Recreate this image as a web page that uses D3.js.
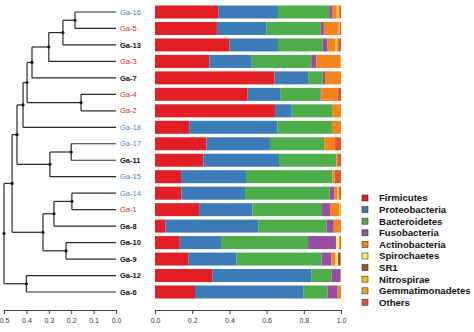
<!DOCTYPE html>
<html>
<head>
<meta charset="utf-8">
<script src="https://cdn.jsdelivr.net/npm/d3@7"></script>
<style>
  body { margin: 0; background: #fff; }
  text { font-family: "Liberation Sans", Arial, sans-serif; }
</style>
</head>
<body>
<div id="chart"></div>
<script>
// samples in dendrogram order (top to bottom)
var samples = ["Ga-16","Ga-5","Ga-13","Ga-3","Ga-7","Ga-4","Ga-2","Ga-18","Ga-17",
               "Ga-11","Ga-15","Ga-14","Ga-1","Ga-8","Ga-10","Ga-9","Ga-12","Ga-6"];
var sampleGroup = ["blue","red","black","red","black","red","red","blue","blue",
                   "black","blue","blue","red","black","black","black","black","black"];

// clustering merges: [id, left, right, height]
var merges = [
  ["m1", "Ga-16", "Ga-5", 0.183],
  ["m2", "m1", "Ga-13", 0.237],
  ["m3", "m2", "Ga-3", 0.300],
  ["m4", "m3", "Ga-7", 0.375],
  ["m5", "Ga-4", "Ga-2", 0.156],
  ["m6", "m4", "m5", 0.397],
  ["m7", "m6", "Ga-18", 0.415],
  ["m8", "Ga-17", "Ga-11", 0.200],
  ["m9", "m8", "Ga-15", 0.295],
  ["m10", "m7", "m9", 0.442],
  ["m11", "Ga-14", "Ga-1", 0.197],
  ["m12", "m11", "Ga-8", 0.277],
  ["m13", "Ga-10", "Ga-9", 0.223],
  ["m14", "m12", "m13", 0.326],
  ["m15", "m10", "m14", 0.464],
  ["m16", "Ga-12", "Ga-6", 0.400],
  ["m17", "m15", "m16", 0.500]
];
var treeTicks = [0.5, 0.4, 0.3, 0.2, 0.1, 0.0];

// relative abundance per phylum, same order as samples
var phyla = ["Firmicutes","Proteobacteria","Bacteroidetes","Fusobacteria","Actinobacteria",
             "Spirochaetes","SR1","Nitrospirae","Gemmatimonadetes","Others"];
var firmicutes     = [0.340,0.333,0.401,0.292,0.642,0.498,0.645,0.184,0.276,0.260,0.140,0.142,0.237,0.057,0.133,0.179,0.308,0.215];
var proteobacteria = [0.321,0.267,0.260,0.228,0.181,0.178,0.090,0.473,0.342,0.407,0.349,0.342,0.286,0.500,0.222,0.260,0.534,0.582];
var bacteroidetes  = [0.276,0.289,0.241,0.320,0.079,0.213,0.217,0.295,0.292,0.308,0.464,0.455,0.375,0.366,0.468,0.457,0.108,0.131];
var fusobacteria   = [0.018,0.019,0.026,0.027,0.012,0.004,0,0,0,0,0,0.025,0.043,0.038,0.150,0.052,0.045,0.054];
var actinobacteria = [0.022,0.080,0.043,0.128,0.086,0.089,0.048,0.048,0.058,0.009,0.013,0.016,0.050,0.039,0,0.023,0.005,0.018];
var spirochaetes   = [0,0,0,0,0,0,0,0,0,0,0,0,0,0,0.016,0.013,0,0];
var sr1            = [0,0,0,0,0,0,0,0,0,0,0,0,0,0,0,0.012,0,0];
var nitrospirae    = [0.008,0.005,0.006,0.005,0,0,0,0,0,0,0,0.005,0.004,0,0,0,0,0];
var gemmatimonadetes = [0.006,0,0.008,0,0,0,0,0,0,0,0,0.005,0.005,0,0.005,0,0,0];
var others         = [0.009,0.007,0.015,0,0,0.018,0,0,0.032,0.016,0.034,0.010,0,0,0.006,0.004,0,0];
var barTicks = [0, 0.2, 0.4, 0.6, 0.8, 1.0];

var series = [firmicutes, proteobacteria, bacteroidetes, fusobacteria, actinobacteria,
              spirochaetes, sr1, nitrospirae, gemmatimonadetes, others];
var colors = ["#e31e24","#3a7bb8","#4dae49","#974ea2","#f5841f",
              "#f7ef6a","#a0522d","#f2c01e","#f7a21d","#e8552b"];
var labelColors = {blue: "#4a86c3", red: "#e0262a", black: "#111"};

var svg = d3.select("#chart").append("svg")
  .attr("width", 474).attr("height", 332);

var y = d3.scalePoint().domain(samples).range([12, 292]);
var xTree = d3.scaleLinear().domain([0.5, 0]).range([4, 116]);
var xBar = d3.scaleLinear().domain([0, 1]).range([155, 341]);
var barH = 13;

// ---- dendrogram ----
var nodes = {};
samples.forEach(function(s) { nodes[s] = {y: y(s), h: 0}; });
merges.forEach(function(m) {
  var a = nodes[m[1]], b = nodes[m[2]];
  nodes[m[0]] = {y: (a.y + b.y) / 2, h: m[3], a: a, b: b};
});

var tree = svg.append("g");
merges.forEach(function(m) {
  var n = nodes[m[0]];
  [n.a, n.b].forEach(function(c) {
    tree.append("line")
      .attr("x1", xTree(n.h)).attr("x2", xTree(c.h))
      .attr("y1", c.y).attr("y2", c.y)
      .attr("stroke", "#2a2a2a").attr("stroke-width", 1.2);
  });
  tree.append("line")
    .attr("x1", xTree(n.h)).attr("x2", xTree(n.h))
    .attr("y1", n.a.y).attr("y2", n.b.y)
    .attr("stroke", "#2a2a2a").attr("stroke-width", 1.2);
});
tree.selectAll("circle")
  .data(merges).enter()
  .append("circle")
  .attr("cx", function(m) { return xTree(nodes[m[0]].h); })
  .attr("cy", function(m) { return nodes[m[0]].y; })
  .attr("r", 1.6)
  .attr("fill", "#111");

// sample labels
svg.selectAll(".lab")
  .data(samples).enter()
  .append("text")
  .attr("x", 120)
  .attr("y", function(d) { return y(d); })
  .attr("dy", "0.35em")
  .style("font-size", "7.5px")
  .style("font-weight", function(d, i) { return sampleGroup[i] == "black" ? "bold" : "normal"; })
  .attr("fill", function(d, i) { return labelColors[sampleGroup[i]]; })
  .text(function(d) { return d; });

// ---- stacked bars ----
var rows = samples.map(function(s, i) {
  var r = {sample: s};
  phyla.forEach(function(p, k) { r[p] = series[k][i]; });
  return r;
});
var stacked = d3.stack().keys(phyla)(rows);

svg.append("g").selectAll("g")
  .data(stacked).enter()
  .append("g")
  .attr("fill", function(d, k) { return colors[k]; })
  .selectAll("rect")
  .data(function(d) { return d; })
  .enter().append("rect")
  .attr("x", function(d) { return xBar(d[0]); })
  .attr("width", function(d) { return Math.max(0, xBar(d[1]) - xBar(d[0])); })
  .attr("y", function(d) { return y(d.data.sample) - barH / 2; })
  .attr("height", barH);

// ---- axes ----
function styleAxis(g) {
  g.selectAll("path, line").attr("stroke", "#444");
  g.selectAll("text").attr("fill", "#333").style("font-size", "7px");
}
svg.append("g")
  .attr("transform", "translate(0,310)")
  .call(d3.axisBottom(xTree).tickValues(treeTicks).tickFormat(d3.format(".1f"))
        .tickSize(4).tickSizeOuter(0).tickPadding(4))
  .call(styleAxis);
svg.append("g")
  .attr("transform", "translate(0,310)")
  .call(d3.axisBottom(xBar).tickValues(barTicks).tickFormat(d3.format(".1f"))
        .tickSize(4).tickSizeOuter(0).tickPadding(4))
  .call(styleAxis);

// ---- legend ----
var legend = svg.append("g").selectAll("g")
  .data(phyla).enter()
  .append("g")
  .attr("transform", function(d, i) { return "translate(362," + (198 + i * 11.6) + ")"; });
legend.append("rect")
  .attr("x", 0).attr("y", -3).attr("width", 6).attr("height", 6)
  .attr("fill", function(d, i) { return colors[i]; })
  .attr("stroke", "#333").attr("stroke-width", 0.6);
legend.append("text")
  .attr("x", 17).attr("dy", "0.35em")
  .style("font-size", "9.6px").style("font-weight", "bold")
  .attr("fill", "#111")
  .text(function(d) { return d; });
</script>
</body>
</html>
